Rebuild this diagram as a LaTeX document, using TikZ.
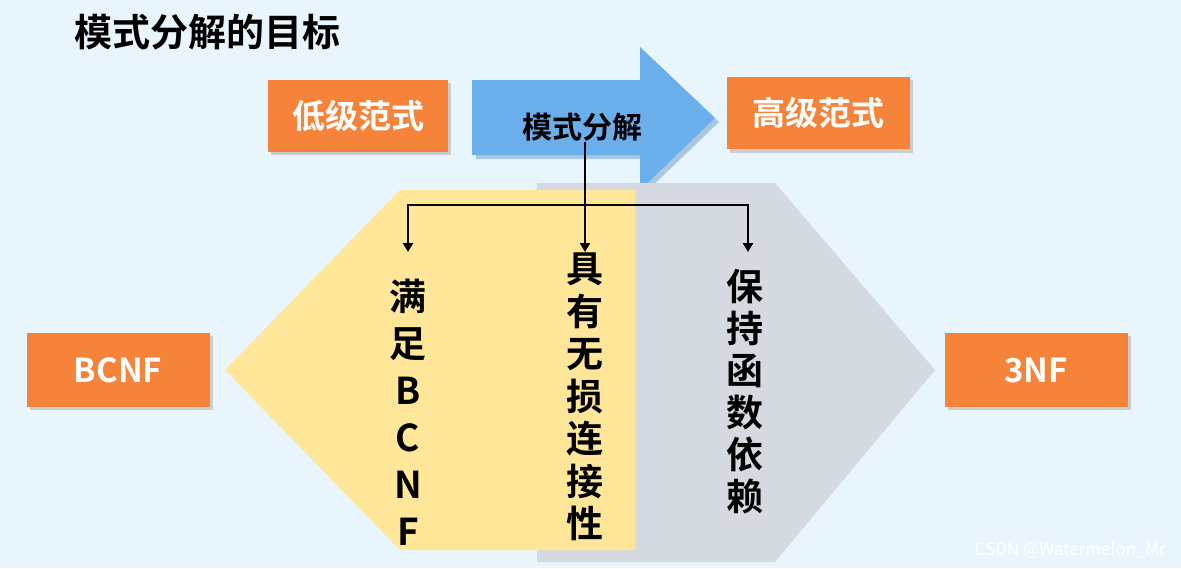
\documentclass[tikz,border=0pt]{standalone}
\usepackage{fontspec}
\setmainfont{Noto Sans CJK SC}[BoldFont={Noto Sans CJK SC Bold}]
\usetikzlibrary{arrows.meta}
\definecolor{bg}{HTML}{E8F5FC}
\definecolor{org}{HTML}{F5843A}
\definecolor{blu}{HTML}{6AAEEC}
\definecolor{yel}{HTML}{FFE699}
\definecolor{gry}{HTML}{D5DAE1}
\tikzset{
 obox/.style={fill=org,minimum width=#1,minimum height=72pt,inner sep=0pt,font=\fontsize{33pt}{33pt}\selectfont\bfseries,text=white},
 conn/.style={line width=2.5pt,black},
 vt/.style={font=\fontsize{37pt}{#1}\selectfont\bfseries,align=center,text width=40pt,inner sep=0pt}
}
\begin{document}
\begin{tikzpicture}[x=1pt,y=-1pt]
\fill[bg] (0,0) rectangle (1181,568);
\useasboundingbox (0,0) rectangle (1181,568);
\node[anchor=west,font=\fontsize{38pt}{38pt}\selectfont\bfseries,inner sep=0pt] (title) at (74,32) {模式分解的目标};
\fill[gray!40] (271,83) rectangle (451,155);
\node[obox=180pt] (low) at (358,116) {低级范式};
\fill[gray!40] (730,80) rectangle (913,153);
\node[obox=183pt] (high) at (818,113) {高级范式};
\fill[blu!70!gray!60] (476,84) -- (644,84) -- (644,51) -- (719,122) -- (644,194) -- (644,159) -- (476,159) -- cycle;
\fill[blu] (472,80) -- (640,80) -- (640,47) -- (715,118) -- (640,190) -- (640,155) -- (472,155) -- cycle;
\node[font=\fontsize{30pt}{30pt}\selectfont\bfseries] (ms) at (582,127) {模式分解};
\fill[gry] (537,183) -- (775,183) -- (935,370) -- (775,562) -- (537,562) -- cycle;
\fill[yel] (400,190) -- (635,190) -- (635,550) -- (400,550) -- (225,370) -- cycle;
\fill[gray!40] (30,336) rectangle (213,410);
\node[obox=183pt,minimum height=74pt] (bcnf) at (118,370) {BCNF};
\fill[gray!40] (948,336) rectangle (1131,410);
\node[obox=183pt,minimum height=74pt] (nf3) at (1036,370) {3NF};
\coordinate (j) at (585,205);
\coordinate (l) at (408,205);
\coordinate (r) at (748,205);
\node[vt=47pt] (t1) at (408,412) {满\\足\\B\\C\\N\\F};
\node[vt=42.5pt] (t2) at (585,397) {具\\有\\无\\损\\连\\接\\性};
\node[vt=42pt] (t3) at (745,392) {保\\持\\函\\数\\依\\赖};
\draw[conn] (585,142) -- (j);
\draw[conn,-{Triangle[length=9pt,width=10pt]}] (j) -- (585,252);
\draw[conn,-{Triangle[length=9pt,width=10pt]}] (j) -- (l) -- (408,252);
\draw[conn,-{Triangle[length=9pt,width=10pt]}] (j) -- (r) -- (748,252);
\node[anchor=east,font=\fontsize{17pt}{17pt}\selectfont,text=white,inner sep=0pt] (csdn) at (1166,550) {CSDN @Watermelon\_Mr};
\end{tikzpicture}
\end{document}
